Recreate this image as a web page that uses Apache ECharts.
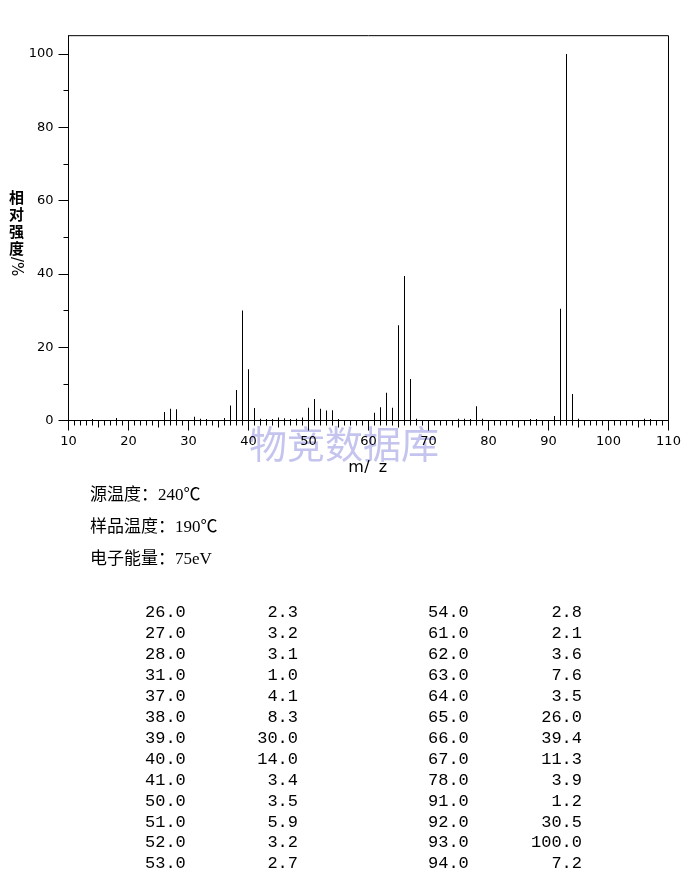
<!DOCTYPE html>
<html><head><meta charset="utf-8">
<script src="https://cdn.jsdelivr.net/npm/echarts@6/dist/echarts.min.js"></script>
<style>html,body{margin:0;padding:0;background:#fff}#c{width:696px;height:893px}</style>
</head><body><div id="c"></div>
<script>
// spectrum peaks (m/z, relative intensity %)
const peakMz = [14,18,26,27,28,31,32,33,36,37,38,39,40,41,42,43,44,45,46,47,48,49,50,51,52,53,54,55,61,62,63,64,65,66,67,68,75,76,77,78,79,87,88,91,92,93,94,95,106,107];
const peakInt = [0.4,0.7,2.3,3.2,3.1,1.0,0.5,0.4,0.7,4.1,8.3,30.0,14.0,3.4,0.5,0.4,0.4,0.8,0.6,0.4,0.5,0.8,3.5,5.9,3.2,2.7,2.8,0.4,2.1,3.6,7.6,3.5,26.0,39.4,11.3,0.5,0.5,0.5,0.4,3.9,0.5,0.4,0.4,1.2,30.5,100.0,7.2,0.5,0.5,0.4];
// table
const tableMz = ['26.0','27.0','28.0','31.0','37.0','38.0','39.0','40.0','41.0','50.0','51.0','52.0','53.0','54.0','61.0','62.0','63.0','64.0','65.0','66.0','67.0','78.0','91.0','92.0','93.0','94.0'];
const tableInt = ['2.3','3.2','3.1','1.0','4.1','8.3','30.0','14.0','3.4','3.5','5.9','3.2','2.7','2.8','2.1','3.6','7.6','3.5','26.0','39.4','11.3','3.9','1.2','30.5','100.0','7.2'];
const yLabelVals = [0,20,40,60,80,100];
const yMinorVals = [10,30,50,70,90];
const infoLines = ['源温度：240℃','样品温度：190℃','电子能量：75eV'];
const yNameChars = ['相','对','强','度'];
const xNameChars = ['m','/','z'];

const chart = echarts.init(document.getElementById('c'));
const lab = {color:'#000', fontFamily:'DejaVu Sans', fontSize:13};
const graphics = [];
// watermark
graphics.push({type:'text', left: 249, top: 425, z: 0, style:{text:'物竞数据库', fill:'#c4c4ee', font:'38px "Noto Sans CJK SC"'}});
// y axis name
yNameChars.forEach((ch,i)=>{
  graphics.push({type:'text', x: 9, y: 190 + i*17, style:{text: ch, fill:'#000', font:'bold 15px "Noto Sans CJK SC"'}});
});
graphics.push({type:'text', x: 23, y: 257, rotation: -Math.PI/2, style:{text:'/%', fill:'#000', font:'15px "DejaVu Sans"'}});
// x axis name
const xNameX = [356, 367, 383];
xNameChars.forEach((ch,i)=>{
  graphics.push({type:'text', x: xNameX[i], y: 468, style:{text:ch, fill:'#000', font:'16px "DejaVu Sans"', align:'center', verticalAlign:'middle'}});
});
// info
infoLines.forEach((t,i)=>{
  graphics.push({type:'text', x: 90, y: 496 + i*32, style:{text:t, fill:'#000', font:'17px "Liberation Serif", "Noto Sans CJK SC"', verticalAlign:'middle'}});
});
// table
const half = Math.ceil(tableMz.length/2);
tableMz.forEach((m,i)=>{
  const col = i < half ? 0 : 1;
  const row = i % half;
  const y = 612.5 + row*20.95;
  const xl = col===0 ? 145 : 428;
  const xr = col===0 ? 298 : 582;
  graphics.push({type:'text', x: xl, y: y, style:{text:m, fill:'#000', font:'17px "Liberation Mono"', verticalAlign:'middle', align:'left'}});
  graphics.push({type:'text', x: xr, y: y, style:{text:tableInt[i], fill:'#000', font:'17px "Liberation Mono"', verticalAlign:'middle', align:'right'}});
});

const gridTop = 420.5 - 105*3.665;
chart.setOption({
  animation:false,
  backgroundColor:'#fff',
  grid:{left:68.5, right:27.5, top:gridTop, bottom:472.5, show:true, borderColor:'#000', borderWidth:1, backgroundColor:'transparent', containLabel:false},
  xAxis:[
    {type:'value', min:10, max:110, interval:10, position:'bottom',
     axisLine:{show:true, lineStyle:{color:'#000', width:1}},
     axisTick:{show:true, length:10, lineStyle:{color:'#000'}},
     minorTick:{show:true, splitNumber:10, length:5, lineStyle:{color:'#000'}},
     splitLine:{show:false}, minorSplitLine:{show:false},
     axisLabel:Object.assign({margin:15}, lab)},
    {type:'value', min:10, max:110, interval:5, position:'bottom', offset:0,
     axisLine:{show:false}, axisTick:{show:true, length:7, lineStyle:{color:'#000'}},
     splitLine:{show:false}, axisLabel:{show:false}}
  ],
  yAxis:[
    {type:'value', min:0, max:105, interval:10, position:'left',
     axisLine:{show:true, lineStyle:{color:'#000', width:1}},
     axisTick:{show:true, length:10, customValues:yLabelVals, lineStyle:{color:'#000'}},
     splitLine:{show:false},
     axisLabel:Object.assign({margin:15, customValues:yLabelVals}, lab)},
    {type:'value', min:0, max:105, position:'left', offset:0,
     axisLine:{show:false},
     axisTick:{show:true, length:5, customValues:yMinorVals, lineStyle:{color:'#000'}},
     splitLine:{show:false}, axisLabel:{show:false}}
  ],
  series:[{
    type:'bar', xAxisIndex:0, yAxisIndex:0, barWidth:1, barGap:'-100%',
    itemStyle:{color:'#000'}, silent:true,
    data: peakMz.map((m,i)=>[m, peakInt[i]])
  }],
  graphic: graphics
});
</script></body></html>
